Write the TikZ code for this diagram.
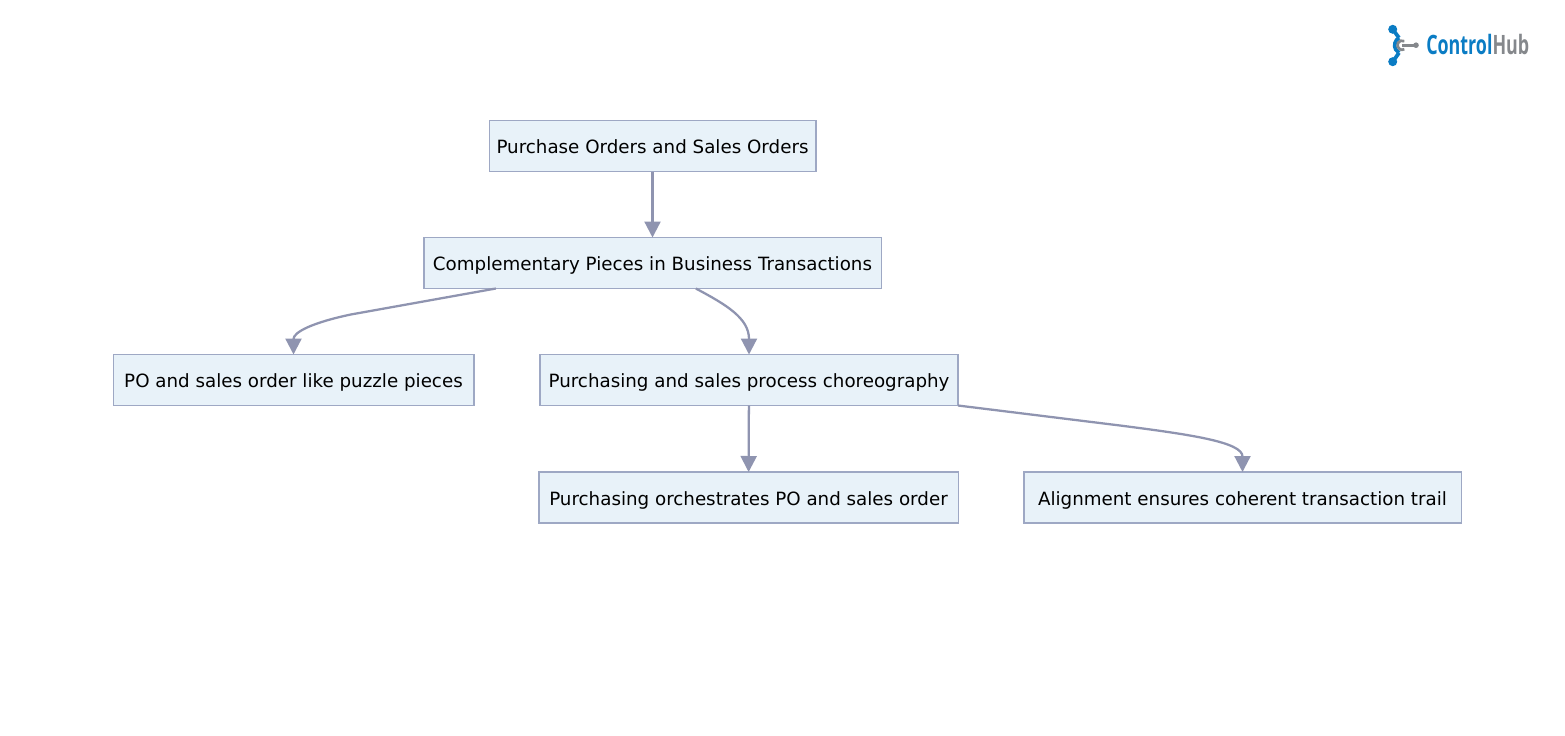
\documentclass[tikz,border=0pt]{standalone}
\usepackage{fontspec}
\setmainfont{DejaVu Sans}
\newfontfamily\logofont[FakeStretch=0.67]{Open Sans}
\usetikzlibrary{arrows.meta}
\definecolor{boxfill}{HTML}{E8F2F9}
\definecolor{boxline}{HTML}{9EA8C4}
\definecolor{edgeline}{HTML}{8F94B0}
\definecolor{logoblue}{HTML}{0A7CC4}
\definecolor{logogray}{HTML}{85888C}
\tikzset{
    box/.style={
        draw=boxline,
        fill=boxfill,
        line width=1pt,
        minimum height=38.25pt,
        inner sep=0pt,
        outer sep=0pt,
        text=black,
        text height=13pt,
        text depth=1.4pt,
        font=\fontsize{13.7}{16}\selectfont
    },
    link/.style={
        draw=edgeline,
        line width=1.7pt,
        -{Triangle[length=12pt,width=12pt]}
    }
}
\begin{document}
\begin{tikzpicture}[x=0.75pt,y=-0.75pt]
    \useasboundingbox[fill=white] (0,0) rectangle (1565,735);
    \node[box,minimum width=245pt] (orders) at (652.5,146) {Purchase Orders and Sales Orders};
    \node[box,minimum width=343pt] (pieces) at (652.5,263) {Complementary Pieces in Business Transactions};
    \node[box,minimum width=270.5pt] (puzzle) at (293.5,380) {PO and sales order like puzzle pieces};
    \node[box,minimum width=313.5pt] (choreo) at (749,380) {Purchasing and sales process choreography};
    \node[box,minimum width=314.5pt] (orchest) at (748.5,497.5) {Purchasing orchestrates PO and sales order};
    \node[box,minimum width=328pt] (trail) at (1242.5,497.5) {Alignment ensures coherent transaction trail};
    \draw[link] (orders) -- (pieces);
    \draw[link] ([xshift=54pt]pieces.south west) -- ++(-145,26) .. controls +(-38,8) and (293.5,332) .. (puzzle.north);
    \draw[link] ([xshift=-139pt]pieces.south east) .. controls +(30,16) and (749,318) .. (choreo.north);
    \draw[link] (choreo) -- (orchest);
    \draw[link] (choreo.south east) -- ++(162,20) .. controls +(70,9) and (1242.5,442) .. (trail.north);
    % logo
    \draw[logoblue,line width=2.8pt] (1392.7,29.3) -- (1399,37.8);
    \draw[logoblue,line width=2.8pt] (1392.7,61.7) -- (1399,52.8);
    \draw[logoblue,line width=2.8pt] (1399,37.8) arc[start angle=240,end angle=120,radius=8.7];
    \fill[logoblue] (1392.7,29.3) circle[radius=4.5];
    \fill[logoblue] (1392.7,61.7) circle[radius=4.5];
    \draw[logogray,line width=2pt] (1404.3,41.2) arc[start angle=-60,end angle=-300,radius=4.6];
    \draw[logogray,line width=2pt] (1402,45.2) -- (1416,45.2);
    \fill[logogray] (1416,45.2) circle[radius=2.8];
    \node[inner sep=0pt,anchor=base west,font=\logofont\bfseries\fontsize{20}{22}\selectfont] (logo) at (1426,55) {\textcolor{logoblue}{Control}\textcolor{logogray}{Hub}};
\end{tikzpicture}
\end{document}
